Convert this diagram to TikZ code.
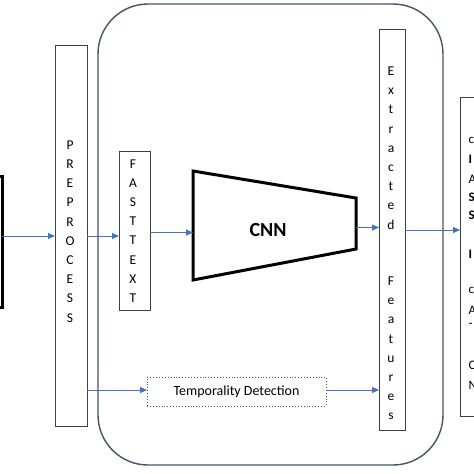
\documentclass[tikz,border=0pt]{standalone}
\usepackage{fontspec}
\setmainfont{Carlito}
\usetikzlibrary{arrows.meta}
\definecolor{arrblue}{HTML}{4472C4}
\definecolor{frame}{HTML}{44546A}
\definecolor{boxgray}{HTML}{404040}
\tikzset{
  arr/.style={draw=arrblue, line width=0.8pt, -{Triangle[length=7pt,width=6pt]}},
  tallbox/.style={draw=boxgray, line width=0.9pt, rectangle, inner sep=0pt, outer sep=0pt},
  vletters/.style={font=\fontsize{13.5}{19.2}\selectfont, align=center, inner sep=0pt},
  rtext/.style={font=\fontsize{13}{15}\selectfont, anchor=west, inner sep=0pt}
}
\begin{document}
\begin{tikzpicture}[x=1pt,y=-1pt]
\useasboundingbox (0,0) rectangle (474,474);
\clip (0,0) rectangle (474,474);
\fill[white] (0,0) rectangle (474,474);
% big rounded frame
\draw[frame, line width=1.4pt, rounded corners=50pt] (98,4) rectangle (443,465);
% left black box
\node[draw=black, line width=3pt, minimum width=32pt, minimum height=131pt, inner sep=0pt, outer sep=0pt] (lb) at (-14,241.5) {};
% preprocess
\node[tallbox, minimum width=32pt, minimum height=381pt] (pre) at (71,235.5) {};
\node[vletters] (pretxt) at (70,231.5) {P\\R\\E\\P\\R\\O\\C\\E\\S\\S};
% fasttext
\node[tallbox, minimum width=31pt, minimum height=159pt] (ft) at (134.5,230.5) {};
\node[vletters] (fttxt) at (133,231) {F\\A\\S\\T\\T\\E\\X\\T};
% CNN trapezoid
\coordinate (c1) at (193,171);
\coordinate (c2) at (356,198);
\coordinate (c3) at (356,249);
\coordinate (c4) at (193,280);
\draw[black, line width=3pt, line join=miter] (c1) -- (c2) -- (c3) -- (c4) -- cycle;
\node[font=\fontsize{20}{24}\selectfont\bfseries, inner sep=0pt] (cnn) at (268,230) {CNN};
% extracted features
\node[tallbox, minimum width=26pt, minimum height=401pt] (ef) at (392,229.5) {};
\node[vletters] (eftxt1) at (391,148) {E\\x\\t\\r\\a\\c\\t\\e\\d};
\node[vletters] (eftxt2) at (391,348.5) {F\\e\\a\\t\\u\\r\\e\\s};
% right box (cut off by the picture's edge)
\node[tallbox, minimum width=60pt, minimum height=319pt, anchor=north west] (rb) at (460,97) {};
\node[rtext] (r1) at (468.5,140) {c};
\node[rtext, font=\fontsize{13}{15}\selectfont\bfseries] (r2) at (468.5,159) {I};
\node[rtext] (r3) at (468.5,179) {A};
\node[rtext, font=\fontsize{13}{15}\selectfont\bfseries] (r4) at (468.5,197) {S};
\node[rtext, font=\fontsize{13}{15}\selectfont\bfseries] (r5) at (468.5,215) {S};
\node[rtext, font=\fontsize{13}{15}\selectfont\bfseries] (r6) at (468.5,254) {I};
\node[rtext] (r7) at (468.5,290) {c};
\node[rtext] (r8) at (468.5,310) {A};
\node[rtext] (r9) at (468.5,325) {-};
\node[rtext] (r10) at (468.5,365) {C};
\node[rtext] (r11) at (468.5,385) {N};
% temporality detection
\node[draw=frame, dotted, line width=0.9pt, minimum width=179pt, minimum height=29pt, inner sep=0pt, outer sep=0pt, font=\fontsize{14}{16}\selectfont] (td) at (236.5,391.5) {Temporality Detection};
% connectors
\coordinate (a1) at (2,236);
\draw[arr] (a1) -- (a1 -| pre.west);
\coordinate (a2) at (87,236);
\draw[arr] (a2) -- (a2 -| ft.west);
\coordinate (a3) at (150,232.5);
\draw[arr] (a3) -- (a3 -| c1);
\coordinate (a4) at (356,227.5);
\draw[arr] (a4) -- (a4 -| ef.west);
\coordinate (a5) at (405,230);
\draw[arr] (a5) -- (a5 -| rb.west);
\coordinate (a6) at (87,390);
\draw[arr] (a6) -- (a6 -| td.west);
\coordinate (a7) at (326,390);
\draw[arr] (a7) -- (a7 -| ef.west);
\end{tikzpicture}
\end{document}
